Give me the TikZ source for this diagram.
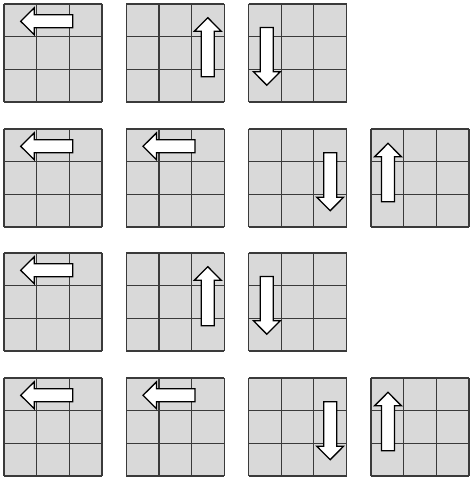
\documentclass[tikz,border=0pt]{standalone}
\usetikzlibrary{calc}
\definecolor{cellgray}{HTML}{D9D9D9}
\definecolor{linegray}{HTML}{3A3A3A}
\tikzset{
  cellfill/.style={fill=cellgray},
  gridline/.style={draw=linegray,line width=1.2pt},
  arrowstyle/.style={draw=black,fill=white,line width=1.3pt,line join=miter}
}
\newcommand{\gridbox}[2]{%
  \begin{scope}[shift={(#1,#2)}]
    \fill[cellfill] (0,0) rectangle (98,98);
    \foreach \k in {0,1,2,3}{
      \draw[gridline] ({\k*98/3},0) -- ({\k*98/3},98);
      \draw[gridline] (0,{\k*98/3}) -- (98,{\k*98/3});
    }
  \end{scope}}
\newcommand{\mkarrow}[4]{%
  \begin{scope}[shift={(#1,#2)},rotate=#3]
    \draw[arrowstyle] (0,-6.5) -- ({#4-13.5},-6.5) -- ({#4-13.5},-13.4) -- (#4,0)
      -- ({#4-13.5},13.4) -- ({#4-13.5},6.5) -- (0,6.5) -- cycle;
  \end{scope}}
\newcommand{\leftarr}[2]{\mkarrow{#1+68.7}{#2+17.3}{180}{52}}
\newcommand{\upR}[2]{\mkarrow{#1+81.5}{#2+72.7}{90}{59}}
\newcommand{\downL}[2]{\mkarrow{#1+18.3}{#2+23.5}{-90}{57.7}}
\newcommand{\downR}[2]{\mkarrow{#1+81.7}{#2+23.7}{-90}{58}}
\newcommand{\upL}[2]{\mkarrow{#1+17}{#2+72.7}{90}{58.4}}
\begin{document}
\begin{tikzpicture}[x=1pt,y=-1pt]
  \useasboundingbox (0,0) rectangle (474,481);
  % row 1
  \gridbox{4}{4}       \leftarr{4}{4}
  \gridbox{126.3}{4}   \upR{126.3}{4}
  \gridbox{248.5}{4}   \downL{248.5}{4}
  % row 2
  \gridbox{4}{129}     \leftarr{4}{129}
  \gridbox{126.3}{129} \leftarr{126.3}{129}
  \gridbox{248.5}{129} \downR{248.5}{129}
  \gridbox{371}{129}   \upL{371}{129}
  % row 3
  \gridbox{4}{253}     \leftarr{4}{253}
  \gridbox{126.3}{253} \upR{126.3}{253}
  \gridbox{248.5}{253} \downL{248.5}{253}
  % row 4
  \gridbox{4}{378}     \leftarr{4}{378}
  \gridbox{126.3}{378} \leftarr{126.3}{378}
  \gridbox{248.5}{378} \downR{248.5}{378}
  \gridbox{371}{378}   \upL{371}{378}
\end{tikzpicture}
\end{document}
